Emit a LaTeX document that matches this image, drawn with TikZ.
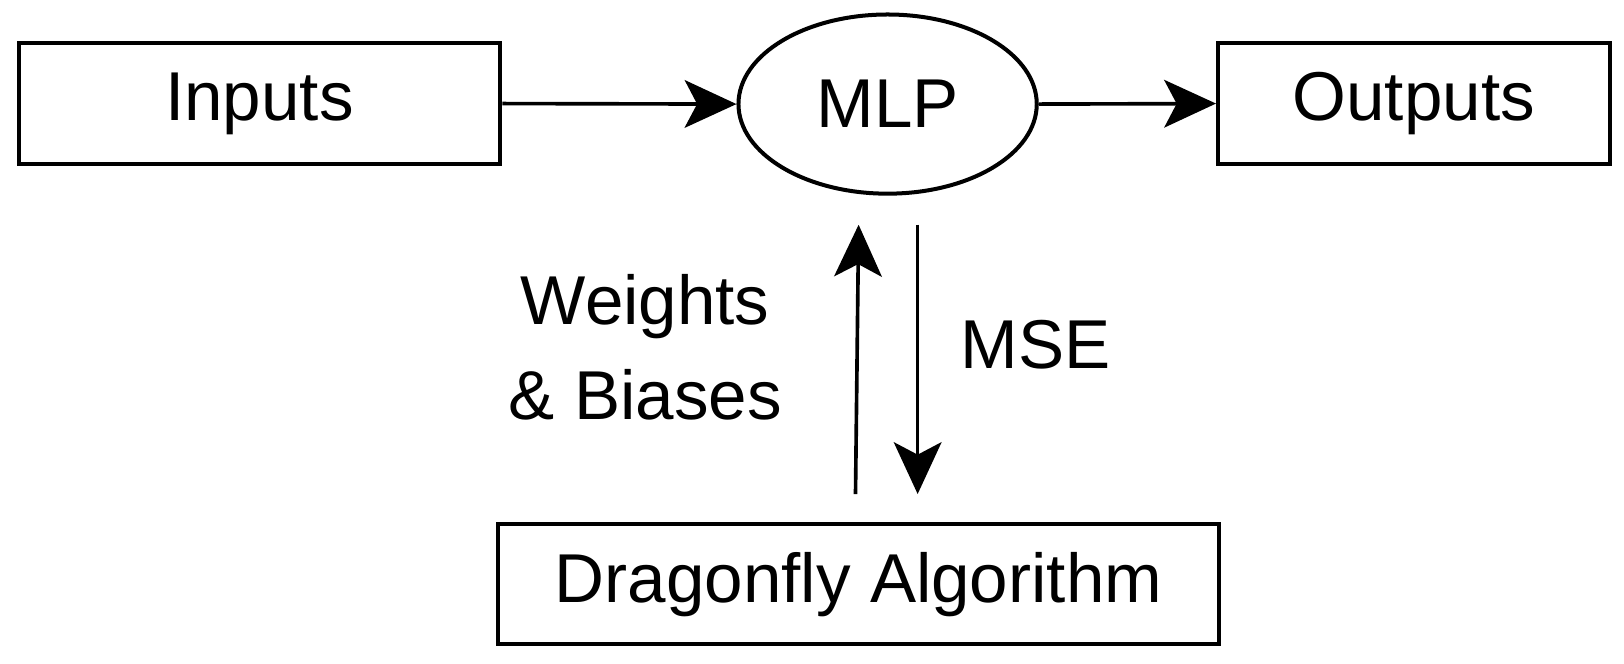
\documentclass[tikz,border=0pt]{standalone}
\usepackage{fontspec}
\setmainfont{Liberation Sans}
\usetikzlibrary{shapes.geometric, arrows.meta, positioning, calc}
\tikzstyle{arrow} = [line width=1pt,-{Stealth[length=5mm,width=4.6mm,inset=1.2mm]}]
\tikzstyle{basic} = [rectangle, minimum height=1.16cm, text centered, draw=black, line width=1.1pt, font=\fontsize{19}{23}\selectfont]

\begin{document}
\begin{tikzpicture}
\useasboundingbox (0,0) rectangle (15.68,6.41);

\node (inputs) [basic, minimum width=4.65cm] at (2.505,5.41) {Inputs};
\node (mlp) [basic, ellipse, minimum width=2.88cm, minimum height=1.73cm] at (8.57,5.405) {MLP};
\node (outputs) [basic, minimum width=3.78cm] at (13.65,5.41) {Outputs};
\node (da) [basic, minimum width=6.96cm] at (8.29,0.77) {Dragonfly Algorithm};

\draw [arrow] (inputs.east) -- (mlp.west);
\draw [arrow] (mlp.east) -- (outputs.west);

\coordinate (wbStart) at (8.26,1.64);
\coordinate (wbEnd) at (8.29,4.24);
\coordinate (mseStart) at (8.86,4.24);
\coordinate (mseEnd) at (8.86,1.64);
\draw [arrow] (wbStart) -- (wbEnd);
\draw [arrow] (mseStart) -- (mseEnd);

\node (wb) [font=\fontsize{19}{26}\selectfont, align=center] at (6.23,3.06) {Weights\\\& Biases};
\node (mse) [font=\fontsize{19}{23}\selectfont] at (10.0,3.08) {MSE};

\end{tikzpicture}
\end{document}
